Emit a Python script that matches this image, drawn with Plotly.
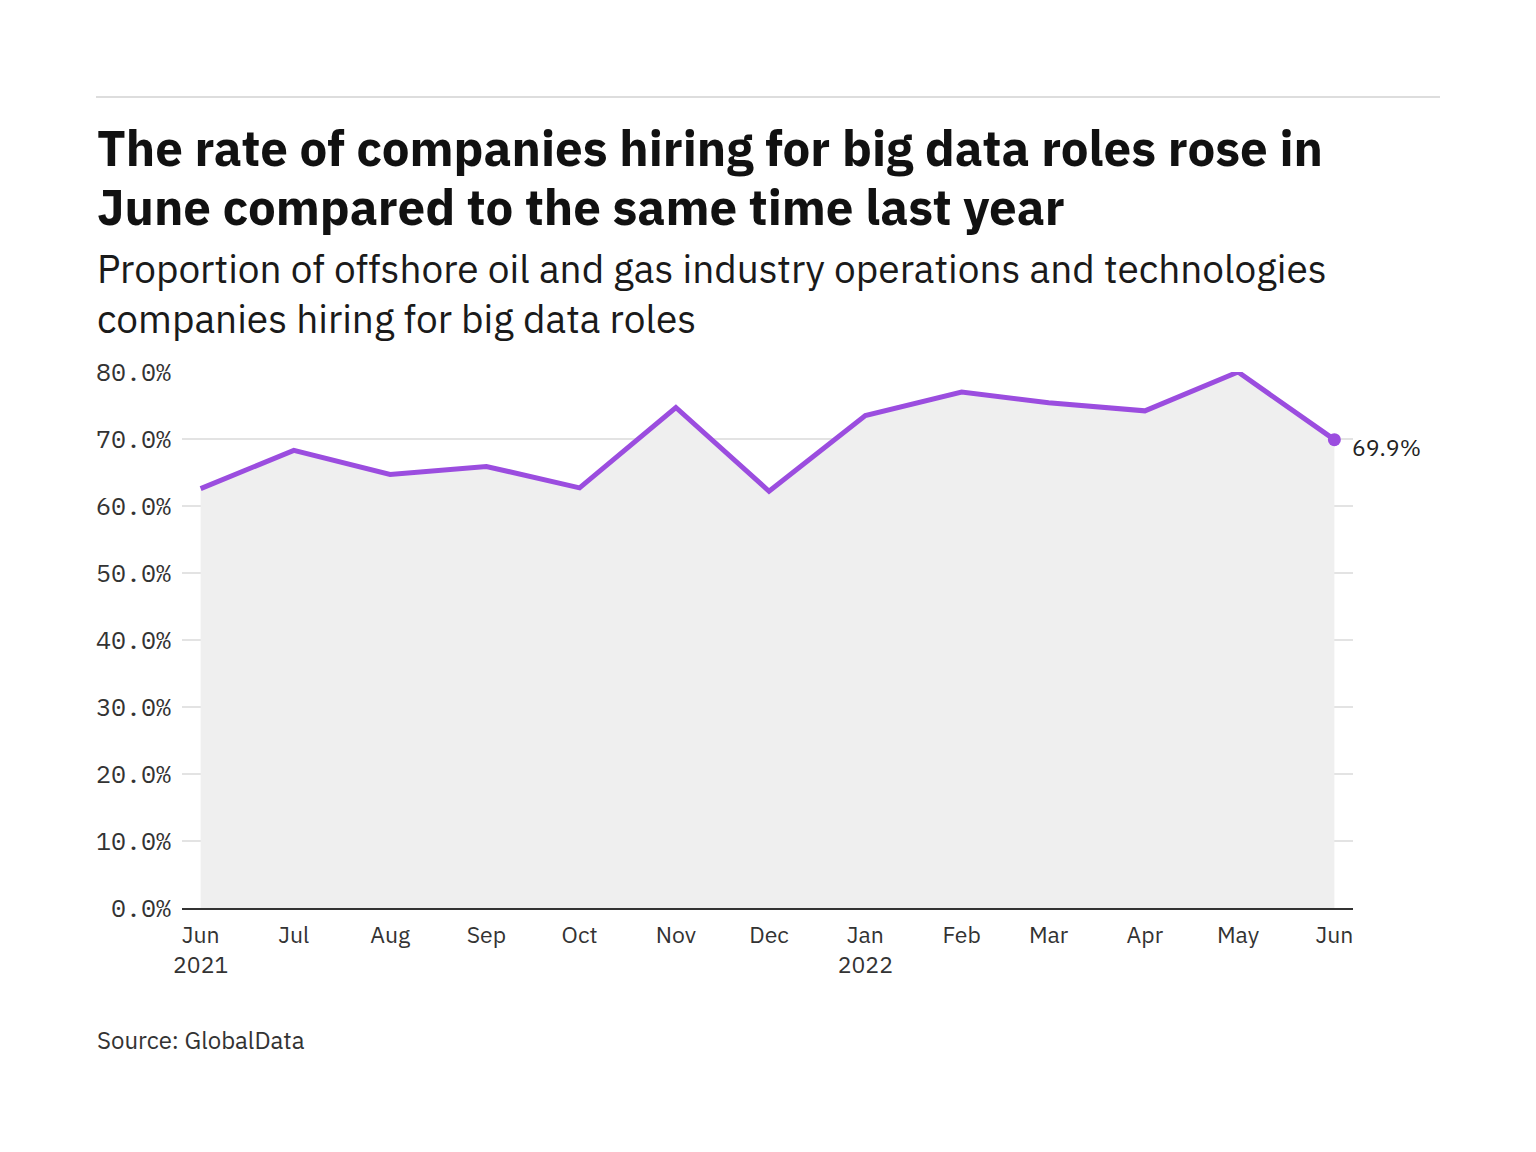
import plotly.graph_objects as go

months = ["2021-06-01", "2021-07-01", "2021-08-01", "2021-09-01", "2021-10-01",
          "2021-11-01", "2021-12-01", "2022-01-01", "2022-02-01", "2022-03-01",
          "2022-04-01", "2022-05-01", "2022-06-01"]
values = [62.6, 68.3, 64.7, 65.9, 62.7, 74.7, 62.2, 73.5, 77.0, 75.4, 74.2, 80.0, 69.9]
tick_labels = ["Jun<br>2021", "Jul", "Aug", "Sep", "Oct", "Nov", "Dec",
               "Jan<br>2022", "Feb", "Mar", "Apr", "May", "Jun"]
y_ticks = [0, 10, 20, 30, 40, 50, 60, 70, 80]
y_tick_labels = [f"{v:.1f}%" for v in y_ticks]

title_lines = ["The rate of companies hiring for big data roles rose in",
               "June compared to the same time last year"]
subtitle_lines = ["Proportion of offshore oil and gas industry operations and technologies",
                  "companies hiring for big data roles"]
source = "Source: GlobalData"

OFF = 8  # page body margin
W, H = 1536 - 2 * OFF, 1152 - 2 * OFF
L, R, T, B = 182 - OFF, 1353 - OFF, 372 - OFF, 908 - OFF
pw, ph = R - L, B - T

def px_x(p):
    return (p - OFF - L) / pw

def px_y(p):
    return (B - (p - OFF)) / ph

purple = "#9b4ddf"
sans = "IBM Plex Sans, Noto Sans, sans-serif"
mono = "IBM Plex Mono, DejaVu Sans Mono, monospace"

fig = go.Figure()
fig.add_trace(go.Scatter(
    x=months, y=values, mode="lines",
    line=dict(color=purple, width=5),
    fill="tozeroy", fillcolor="#efefef",
    hoverinfo="skip", showlegend=False))
fig.add_trace(go.Scatter(
    x=[months[-1]], y=[values[-1]], mode="markers",
    marker=dict(color=purple, size=13),
    hoverinfo="skip", showlegend=False))

annotations = []
annotations.append(dict(x=months[-1], y=values[-1], xref="x", yref="y",
                        text=f"{values[-1]:.1f}%", showarrow=False,
                        xanchor="left", yanchor="middle", xshift=16, yshift=-7,
                        font=dict(family=sans, size=23, color="#222")))
for i, line in enumerate(title_lines):
    annotations.append(dict(x=px_x(95), y=px_y([148, 206][i]), xref="paper", yref="paper",
                            text=f"<b>{line}</b>", showarrow=False,
                            xanchor="left", yanchor="middle",
                            font=dict(family=sans, size=49.3, color="#111")))
for i, line in enumerate(subtitle_lines):
    annotations.append(dict(x=px_x(95), y=px_y([268, 318][i]), xref="paper", yref="paper",
                            text=line, showarrow=False,
                            xanchor="left", yanchor="middle",
                            font=dict(family=sans, size=38.8, color="#1a1a1a")))
annotations.append(dict(x=px_x(95), y=px_y(1040), xref="paper", yref="paper",
                        text=source, showarrow=False, xanchor="left", yanchor="middle",
                        font=dict(family=sans, size=24, color="#333")))

fig.update_layout(
    width=W, height=H,
    margin=dict(l=L, r=W - R, t=T, b=H - B, pad=0),
    paper_bgcolor="white", plot_bgcolor="white",
    annotations=annotations,
    shapes=[dict(type="line", xref="paper", yref="paper",
                 x0=px_x(96), x1=px_x(1440), y0=px_y(97), y1=px_y(97),
                 line=dict(color="#dddddd", width=2))],
    xaxis=dict(type="date", range=["2021-05-26", "2022-06-07"],
               tickvals=months, ticktext=tick_labels,
               showgrid=False, zeroline=False,
               showline=True, linecolor="#333", linewidth=2,
               ticks="", ticklen=0, ticklabelstandoff=5,
               tickfont=dict(family=sans, size=23, color="#333")),
    yaxis=dict(range=[0, 80], tickvals=y_ticks, ticktext=y_tick_labels,
               showgrid=True, gridcolor="#e3e3e3", gridwidth=1.5,
               zeroline=False, showline=False, ticks="",
               ticklabelstandoff=10,
               tickfont=dict(family=mono, size=25, color="#333")),
)

fig.write_html("out.html")
